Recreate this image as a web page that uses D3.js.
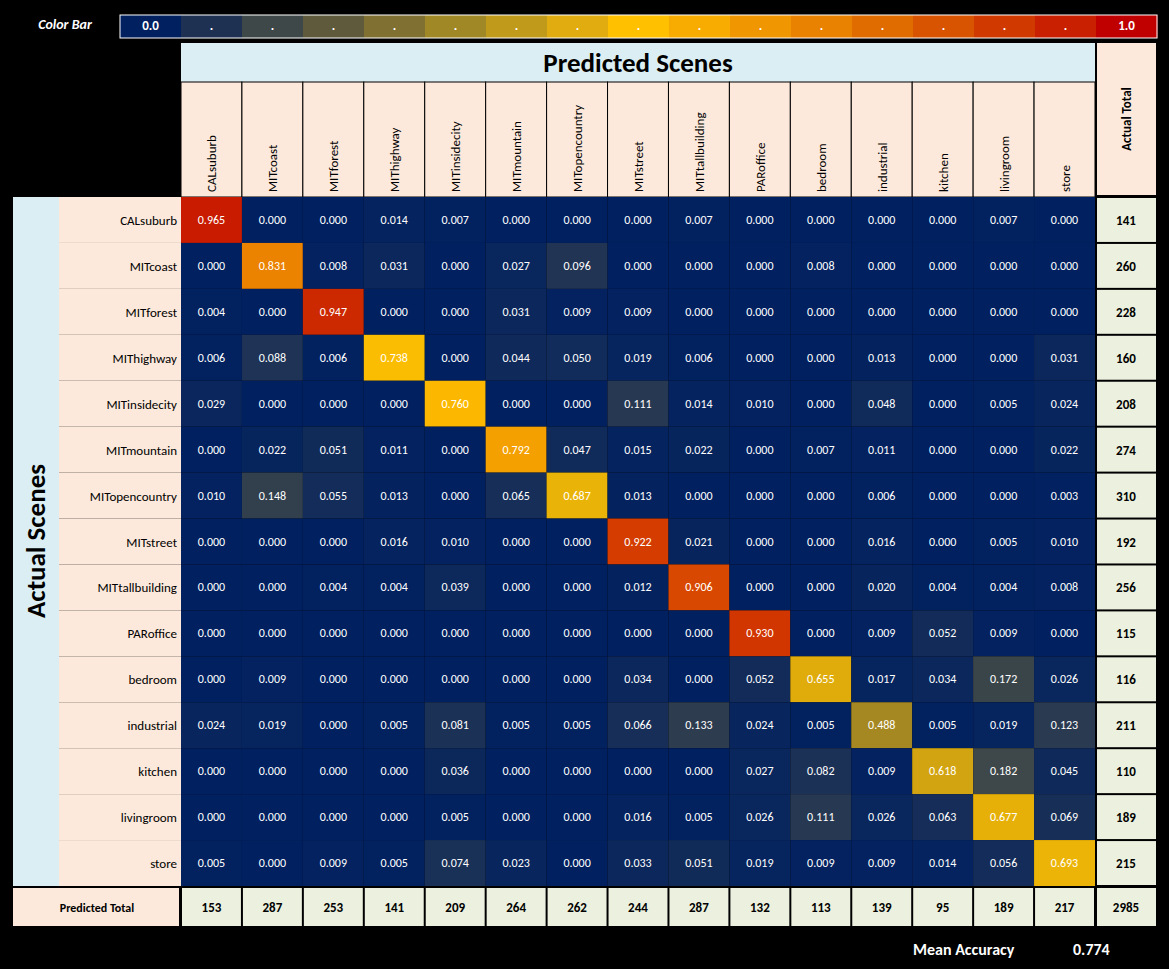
<!DOCTYPE html>
<html><head><meta charset="utf-8">
<script src="https://cdn.jsdelivr.net/npm/d3@7"></script>
<style>body{margin:0;background:#000}</style>
</head><body><svg></svg>
<script>
const labels = ['CALsuburb','MITcoast','MITforest','MIThighway','MITinsidecity','MITmountain','MITopencountry','MITstreet','MITtallbuilding','PARoffice','bedroom','industrial','kitchen','livingroom','store'];
const matrix = [
  [0.965,0.000,0.000,0.014,0.007,0.000,0.000,0.000,0.007,0.000,0.000,0.000,0.000,0.007,0.000],
  [0.000,0.831,0.008,0.031,0.000,0.027,0.096,0.000,0.000,0.000,0.008,0.000,0.000,0.000,0.000],
  [0.004,0.000,0.947,0.000,0.000,0.031,0.009,0.009,0.000,0.000,0.000,0.000,0.000,0.000,0.000],
  [0.006,0.088,0.006,0.738,0.000,0.044,0.050,0.019,0.006,0.000,0.000,0.013,0.000,0.000,0.031],
  [0.029,0.000,0.000,0.000,0.760,0.000,0.000,0.111,0.014,0.010,0.000,0.048,0.000,0.005,0.024],
  [0.000,0.022,0.051,0.011,0.000,0.792,0.047,0.015,0.022,0.000,0.007,0.011,0.000,0.000,0.022],
  [0.010,0.148,0.055,0.013,0.000,0.065,0.687,0.013,0.000,0.000,0.000,0.006,0.000,0.000,0.003],
  [0.000,0.000,0.000,0.016,0.010,0.000,0.000,0.922,0.021,0.000,0.000,0.016,0.000,0.005,0.010],
  [0.000,0.000,0.004,0.004,0.039,0.000,0.000,0.012,0.906,0.000,0.000,0.020,0.004,0.004,0.008],
  [0.000,0.000,0.000,0.000,0.000,0.000,0.000,0.000,0.000,0.930,0.000,0.009,0.052,0.009,0.000],
  [0.000,0.009,0.000,0.000,0.000,0.000,0.000,0.034,0.000,0.052,0.655,0.017,0.034,0.172,0.026],
  [0.024,0.019,0.000,0.005,0.081,0.005,0.005,0.066,0.133,0.024,0.005,0.488,0.005,0.019,0.123],
  [0.000,0.000,0.000,0.000,0.036,0.000,0.000,0.000,0.000,0.027,0.082,0.009,0.618,0.182,0.045],
  [0.000,0.000,0.000,0.000,0.005,0.000,0.000,0.016,0.005,0.026,0.111,0.026,0.063,0.677,0.069],
  [0.005,0.000,0.009,0.005,0.074,0.023,0.000,0.033,0.051,0.019,0.009,0.009,0.014,0.056,0.693]
];
const actualTotals = [141,260,228,160,208,274,310,192,256,115,116,211,110,189,215];
const predictedTotals = [153,287,253,141,209,264,262,244,287,132,113,139,95,189,217];
const grandTotal = 2985;
const meanAccuracy = 0.774;
const barColors = ['#002060','#1f3152','#3f4849','#5f5a3b','#807031','#a08826','#c09a1a','#e0ac10','#ffc000','#f8ab00','#f09600','#e88200','#e06c00','#d85400','#d03a00','#c82000','#c00000'];

const W = 1169, H = 969;
const svg = d3.select('svg').attr('width', W).attr('height', H).style('font-family', 'Calibri, Carlito, "Open Sans", sans-serif');
svg.append('rect').attr('width', W).attr('height', H).attr('fill', '#000');

const x = d3.scaleBand().domain(d3.range(15)).range([181, 1095]);
const y = d3.scaleBand().domain(d3.range(15)).range([197, 886]);
const color = d3.scaleLinear().domain([0, 0.75, 1]).range(['#002060', '#ffc000', '#c00000']).clamp(true);
const peach = '#fce9db', light = '#ebf1de', blue = '#daeef3';

// color bar
const xb = d3.scaleBand().domain(d3.range(barColors.length)).range([120, 1157]);
svg.append('text').attr('x', 65).attr('y', 29).attr('text-anchor', 'middle').attr('fill', '#fff')
  .attr('font-size', 14).attr('font-weight', 'bold').attr('font-style', 'italic').text('Color Bar');
svg.selectAll('.cb').data(barColors).enter().append('rect')
  .attr('x', (d, i) => xb(i)).attr('y', 15).attr('width', xb.bandwidth() + 0.5).attr('height', 23).attr('fill', d => d);
svg.append('rect').attr('x', 120).attr('y', 15).attr('width', 1037).attr('height', 23).attr('fill', 'none').attr('stroke', '#fff');
svg.selectAll('.cbt').data(barColors).enter().append('text')
  .attr('x', (d, i) => xb(i) + xb.bandwidth() / 2).attr('y', 30).attr('text-anchor', 'middle')
  .attr('fill', '#fff').attr('font-size', 13).attr('font-weight', 'bold')
  .text((d, i) => i === 0 ? '0.0' : i === barColors.length - 1 ? '1.0' : '.');

// headers
svg.append('rect').attr('x', 181).attr('y', 43).attr('width', 914).attr('height', 39).attr('fill', blue);
svg.append('text').attr('x', 638).attr('y', 72).attr('text-anchor', 'middle').attr('font-size', 27).attr('font-weight', 'bold').text('Predicted Scenes');
svg.selectAll('.ch').data(labels).enter().append('rect')
  .attr('x', (d, i) => x(i)).attr('y', 82).attr('width', x.bandwidth()).attr('height', 115)
  .attr('fill', peach).attr('stroke', '#000');
svg.selectAll('.cl').data(labels).enter().append('text')
  .attr('transform', (d, i) => `translate(${x(i) + x.bandwidth() / 2 + 5},192) rotate(-90)`)
  .attr('font-size', 13).text(d => d);
svg.append('rect').attr('x', 1097).attr('y', 43).attr('width', 59).attr('height', 152).attr('fill', peach);
svg.append('text').attr('transform', 'translate(1131,119) rotate(-90)').attr('text-anchor', 'middle')
  .attr('font-size', 13).attr('font-weight', 'bold').text('Actual Total');

svg.append('rect').attr('x', 13).attr('y', 197).attr('width', 46).attr('height', 689).attr('fill', blue);
svg.append('text').attr('transform', 'translate(45,541) rotate(-90)').attr('text-anchor', 'middle')
  .attr('font-size', 27).attr('font-weight', 'bold').text('Actual Scenes');
svg.selectAll('.rh').data(labels).enter().append('rect')
  .attr('x', 59).attr('y', (d, i) => y(i)).attr('width', 122).attr('height', y.bandwidth()).attr('fill', peach);
svg.selectAll('.rl').data(labels).enter().append('text')
  .attr('x', 177).attr('y', (d, i) => y(i) + y.bandwidth() / 2 + 5).attr('text-anchor', 'end')
  .attr('font-size', 13).text(d => d);

// cells
const cells = matrix.flatMap((row, r) => row.map((v, c) => ({r, c, v})));
svg.selectAll('.cell').data(cells).enter().append('rect')
  .attr('x', d => x(d.c)).attr('y', d => y(d.r)).attr('width', x.bandwidth()).attr('height', y.bandwidth())
  .attr('fill', d => color(d.v));
svg.selectAll('.cv').data(cells).enter().append('text')
  .attr('x', d => x(d.c) + x.bandwidth() / 2).attr('y', d => y(d.r) + y.bandwidth() / 2 + 4)
  .attr('text-anchor', 'middle').attr('fill', '#fff').attr('font-size', 12).text(d => d.v.toFixed(3));

// totals
svg.selectAll('.at').data(actualTotals).enter().append('rect')
  .attr('x', 1097).attr('y', (d, i) => y(i) + 1).attr('width', 59).attr('height', y.bandwidth() - 2).attr('fill', light);
svg.selectAll('.att').data(actualTotals).enter().append('text')
  .attr('x', 1126).attr('y', (d, i) => y(i) + y.bandwidth() / 2 + 5).attr('text-anchor', 'middle')
  .attr('font-size', 13).attr('font-weight', 'bold').text(d => d);
svg.append('rect').attr('x', 13).attr('y', 888).attr('width', 166).attr('height', 38).attr('fill', peach);
svg.append('text').attr('x', 97).attr('y', 912).attr('text-anchor', 'middle').attr('font-size', 12).attr('font-weight', 'bold').text('Predicted Total');
svg.selectAll('.pt').data(predictedTotals).enter().append('rect')
  .attr('x', (d, i) => x(i) + 1).attr('y', 888).attr('width', x.bandwidth() - 2).attr('height', 38).attr('fill', light);
svg.selectAll('.ptt').data(predictedTotals).enter().append('text')
  .attr('x', (d, i) => x(i) + x.bandwidth() / 2).attr('y', 912).attr('text-anchor', 'middle')
  .attr('font-size', 13).attr('font-weight', 'bold').text(d => d);
svg.append('rect').attr('x', 1097).attr('y', 888).attr('width', 59).attr('height', 38).attr('fill', light);
svg.append('text').attr('x', 1126).attr('y', 912).attr('text-anchor', 'middle').attr('font-size', 13).attr('font-weight', 'bold').text(grandTotal);

svg.append('text').attr('x', 913).attr('y', 955).attr('fill', '#fff').attr('font-size', 16).attr('font-weight', 'bold').text('Mean Accuracy');
svg.append('text').attr('x', 1073).attr('y', 955).attr('fill', '#fff').attr('font-size', 16).attr('font-weight', 'bold').text(meanAccuracy.toFixed(3));
</script></body></html>
